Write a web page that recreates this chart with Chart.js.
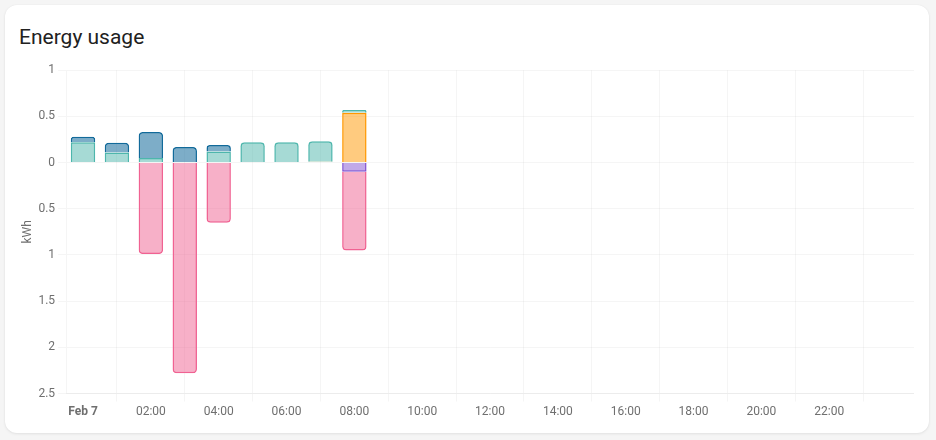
<!DOCTYPE html>
<html>
<head>
<meta charset="utf-8">
<script src="https://cdn.jsdelivr.net/npm/chart.js@4.4.1/dist/chart.umd.min.js"></script>
<style>
  html, body { margin: 0; padding: 0; background: #f5f5f5; }
  body { width: 936px; height: 440px; position: relative; overflow: hidden; font-family: Roboto, sans-serif; }
  .card {
    position: absolute; left: 5px; top: 5px; width: 924px; height: 428px;
    background: #fff; border-radius: 12px;
    box-shadow: 0 1px 3px rgba(0,0,0,0.08), 0 0 2px rgba(0,0,0,0.04);
  }
  .title {
    position: absolute; left: 19px; top: 24px; margin: 0;
    font-size: 21px; font-weight: 400; color: #212121; line-height: 26px;
  }
  .chart-box { position: absolute; left: 13px; top: 60px; width: 901px; height: 362px; }
</style>
</head>
<body>
<div class="card"></div>
<h1 class="title">Energy usage</h1>
<div class="chart-box"><canvas id="energyChart"></canvas></div>
<script>
    // hours of the day, first label shows the date
    const hourLabels = ['Feb 7', '01:00', '02:00', '03:00', '04:00', '05:00', '06:00', '07:00',
        '08:00', '09:00', '10:00', '11:00', '12:00', '13:00', '14:00', '15:00',
        '16:00', '17:00', '18:00', '19:00', '20:00', '21:00', '22:00', '23:00', '00:00'];

    // consumption (kWh, positive)
    const solarUsed = [0, 0, 0, 0, 0, 0, 0, 0.01, 0.54];
    const batteryOut = [0.22, 0.11, 0.05, 0, 0.12, 0.22, 0.22, 0.22, 0.03];
    const gridUsed = [0.06, 0.105, 0.28, 0.17, 0.07, 0, 0, 0, 0];

    // production going away (kWh, drawn below zero)
    const returnedToGrid = [0, 0, 0, 0, 0, 0, 0, 0, -0.10];
    const batteryIn = [0, 0, -0.99, -2.28, -0.65, 0, 0, 0, -0.85];

    const yTicks = [1, 0.5, 0, -0.5, -1, -1.5, -2, -2.5];

    function makeSet(label, values, color, alpha) {
        return {
            label: label,
            data: values,
            stack: 'energy',
            backgroundColor: color + alpha,
            borderColor: color,
            borderWidth: 1.5,
            borderRadius: 4
        };
    }

    const ctx = document.getElementById('energyChart').getContext('2d');
    new Chart(ctx, {
        type: 'bar',
        data: {
            labels: hourLabels,
            datasets: [
                makeSet('Solar', solarUsed, '#ff9800', '80'),
                makeSet('Battery out', batteryOut, '#4db6ac', '80'),
                makeSet('Grid', gridUsed, '#126a9a', '8c'),
                makeSet('Return to grid', returnedToGrid, '#8353d1', '80'),
                makeSet('Battery in', batteryIn, '#f06292', '80')
            ]
        },
        options: {
            responsive: true,
            maintainAspectRatio: false,
            animation: false,
            plugins: {
                legend: { display: false },
                tooltip: { enabled: false }
            },
            scales: {
                x: {
                    stacked: true,
                    offset: true,
                    grid: {
                        offset: false,
                        color: function (c) {
                            return c.index % 2 === 1 ? 'rgba(0,0,0,0.04)' : 'rgba(0,0,0,0)';
                        }
                    },
                    border: { color: 'rgba(0,0,0,0.04)' },
                    ticks: {
                        autoSkip: false,
                        maxRotation: 0,
                        color: '#6f6f6f',
                        font: function (c) {
                            return { family: 'Roboto', size: 12, weight: c.index === 0 ? 'bold' : 'normal' };
                        },
                        callback: function (value, index) {
                            return index % 2 === 0 && index < 24 ? hourLabels[index] : '';
                        }
                    }
                },
                y: {
                    stacked: true,
                    min: yTicks[yTicks.length - 1],
                    max: yTicks[0],
                    grid: { color: 'rgba(0,0,0,0.04)' },
                    border: { color: 'rgba(0,0,0,0.04)' },
                    afterBuildTicks: function (axis) {
                        axis.ticks = yTicks.map(v => ({ value: v }));
                    },
                    ticks: {
                        color: '#6f6f6f',
                        font: { family: 'Roboto', size: 12 },
                        callback: function (value) {
                            return Math.abs(value).toString();
                        }
                    },
                    title: {
                        display: true,
                        text: 'kWh',
                        color: '#6f6f6f',
                        padding: { top: 8, bottom: 0 },
                        font: { family: 'Roboto', size: 12 }
                    }
                }
            }
        }
    });
</script>
</body>
</html>
